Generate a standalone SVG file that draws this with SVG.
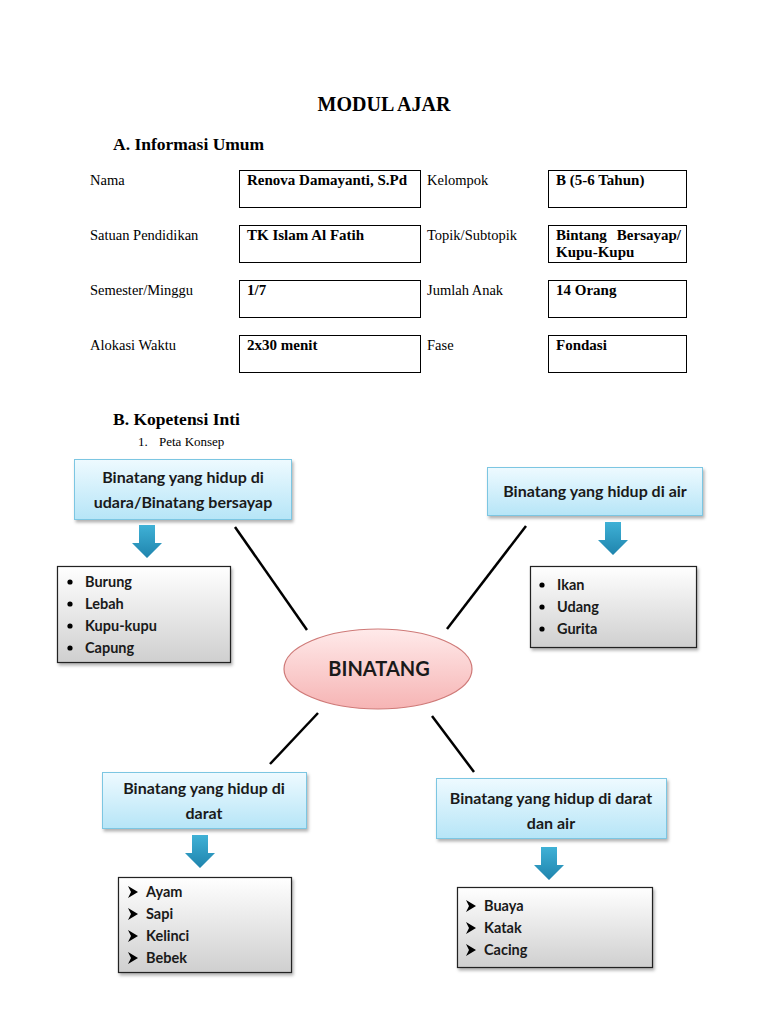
<svg xmlns="http://www.w3.org/2000/svg" width="768" height="1024" viewBox="0 0 768 1024">
<style>
.serif{font-family:"Liberation Serif","Times New Roman",serif;fill:#000}
.b{font-weight:bold}
.lbl{font-size:14.5px}
.val{font-size:15px;font-weight:bold}
.cell{fill:#fff;stroke:#000;stroke-width:1}
.cal{font-family:Lato,"Open Sans",sans-serif;font-weight:bold;fill:#1a1a1a}
.bluebox{fill:url(#gBlue);stroke:#7cc6e2;stroke-width:1;filter:url(#sh)}
.listbox{fill:url(#gGray);stroke:#222;stroke-width:1.2;filter:url(#sh)}
.arrow{fill:url(#gArrow)}
.conn line{stroke:#000;stroke-width:2.5}
</style>
<defs>
<linearGradient id="gBlue" x1="0" y1="0" x2="0" y2="1"><stop offset="0" stop-color="#eefaff"/><stop offset="1" stop-color="#b6e5f7"/></linearGradient>
<linearGradient id="gGray" x1="0" y1="0" x2="0" y2="1"><stop offset="0" stop-color="#ffffff"/><stop offset="1" stop-color="#cfcfcf"/></linearGradient>
<linearGradient id="gArrow" x1="0" y1="0" x2="0" y2="1"><stop offset="0" stop-color="#3fb1d6"/><stop offset="1" stop-color="#1f84ad"/></linearGradient>
<linearGradient id="gPink" x1="0" y1="0" x2="0" y2="1"><stop offset="0" stop-color="#ffeaea"/><stop offset="1" stop-color="#f6b4b4"/></linearGradient>
<filter id="sh" x="-10%" y="-10%" width="125%" height="130%"><feDropShadow dx="1.5" dy="2.5" stdDeviation="1.5" flood-color="#000" flood-opacity="0.3"/></filter>
<path id="arr" d="M-8,0 H8 V18 H15 L0,33 L-15,18 H-8 Z"/>
</defs>
<rect width="768" height="1024" fill="#fff"/>

<g id="header">
<text class="serif b" x="384" y="111" font-size="20" text-anchor="middle">MODUL AJAR</text>
<text class="serif b" x="113" y="150" font-size="17.5">A. Informasi Umum</text>
</g>

<g id="table">
<text class="serif lbl" x="90" y="185">Nama</text>
<rect class="cell" x="239.5" y="170.5" width="181" height="37"/>
<text class="serif val" x="247" y="185">Renova Damayanti, S.Pd</text>
<text class="serif lbl" x="427" y="185">Kelompok</text>
<rect class="cell" x="548.5" y="170.5" width="138" height="37"/>
<text class="serif val" x="556" y="185">B (5-6 Tahun)</text>

<text class="serif lbl" x="90" y="240">Satuan Pendidikan</text>
<rect class="cell" x="239.5" y="225.5" width="181" height="37"/>
<text class="serif val" x="247" y="240">TK Islam Al Fatih</text>
<text class="serif lbl" x="427" y="240">Topik/Subtopik</text>
<rect class="cell" x="548.5" y="225.5" width="138" height="37"/>
<text class="serif val" x="556" y="240">Bintang</text>
<text class="serif val" x="681" y="240" text-anchor="end">Bersayap/</text>
<text class="serif val" x="556" y="257">Kupu-Kupu</text>

<text class="serif lbl" x="90" y="295">Semester/Minggu</text>
<rect class="cell" x="239.5" y="280.5" width="181" height="37"/>
<text class="serif val" x="247" y="295">1/7</text>
<text class="serif lbl" x="427" y="295">Jumlah Anak</text>
<rect class="cell" x="548.5" y="280.5" width="138" height="37"/>
<text class="serif val" x="556" y="295">14 Orang</text>

<text class="serif lbl" x="90" y="350">Alokasi Waktu</text>
<rect class="cell" x="239.5" y="335.5" width="181" height="37"/>
<text class="serif val" x="247" y="350">2x30 menit</text>
<text class="serif lbl" x="427" y="350">Fase</text>
<rect class="cell" x="548.5" y="335.5" width="138" height="37"/>
<text class="serif val" x="556" y="350">Fondasi</text>
</g>

<g id="sectionB">
<text class="serif b" x="113" y="425" font-size="17.5">B. Kopetensi Inti</text>
<text class="serif" x="138" y="446" font-size="13">1.</text>
<text class="serif" x="159" y="446" font-size="13">Peta Konsep</text>
</g>

<g class="conn" id="connectors">
<line x1="235" y1="527" x2="307" y2="630"/>
<line x1="526" y1="526" x2="447" y2="629"/>
<line x1="318" y1="713" x2="270" y2="764"/>
<line x1="432" y1="716" x2="474" y2="772"/>
</g>

<g id="center">
<ellipse cx="378" cy="669" rx="94" ry="40" fill="url(#gPink)" stroke="#cf7a78" stroke-width="1.2"/>
<text class="cal" x="379" y="676" font-size="20" text-anchor="middle">BINATANG</text>
</g>

<g id="udara">
<rect class="bluebox" x="74.5" y="459.5" width="217" height="60"/>
<text class="cal" x="183" y="483" font-size="16" text-anchor="middle">Binatang yang hidup di</text>
<text class="cal" x="183" y="508" font-size="16" text-anchor="middle">udara/Binatang bersayap</text>
<use href="#arr" class="arrow" transform="translate(147,525)"/>
<rect class="listbox" x="57.5" y="566.5" width="173" height="96"/>
<g class="cal" font-size="14.5">
<circle cx="70" cy="582" r="2.6" fill="#000"/><text x="85" y="587">Burung</text>
<circle cx="70" cy="604" r="2.6" fill="#000"/><text x="85" y="609">Lebah</text>
<circle cx="70" cy="626" r="2.6" fill="#000"/><text x="85" y="631">Kupu-kupu</text>
<circle cx="70" cy="648" r="2.6" fill="#000"/><text x="85" y="653">Capung</text>
</g>
</g>

<g id="air">
<rect class="bluebox" x="487.5" y="467.5" width="215" height="48"/>
<text class="cal" x="595" y="497" font-size="16" text-anchor="middle">Binatang yang hidup di air</text>
<use href="#arr" class="arrow" transform="translate(613,522)"/>
<rect class="listbox" x="530.5" y="566.5" width="166" height="81"/>
<g class="cal" font-size="14.5">
<circle cx="542" cy="585" r="2.6" fill="#000"/><text x="557" y="590">Ikan</text>
<circle cx="542" cy="607" r="2.6" fill="#000"/><text x="557" y="612">Udang</text>
<circle cx="542" cy="629" r="2.6" fill="#000"/><text x="557" y="634">Gurita</text>
</g>
</g>

<g id="darat">
<rect class="bluebox" x="102.5" y="772.5" width="204" height="56"/>
<text class="cal" x="204" y="794" font-size="16" text-anchor="middle">Binatang yang hidup di</text>
<text class="cal" x="204" y="819" font-size="16" text-anchor="middle">darat</text>
<use href="#arr" class="arrow" transform="translate(200,835)"/>
<rect class="listbox" x="118.5" y="877.5" width="173" height="95"/>
<g class="cal" font-size="14.5">
<path d="M128,886 L138,892 L128,898 L131,892 Z" fill="#000"/><text x="146" y="897">Ayam</text>
<path d="M128,908 L138,914 L128,920 L131,914 Z" fill="#000"/><text x="146" y="919">Sapi</text>
<path d="M128,930 L138,936 L128,942 L131,936 Z" fill="#000"/><text x="146" y="941">Kelinci</text>
<path d="M128,952 L138,958 L128,964 L131,958 Z" fill="#000"/><text x="146" y="963">Bebek</text>
</g>
</g>

<g id="daratair">
<rect class="bluebox" x="436.5" y="778.5" width="230" height="60"/>
<text class="cal" x="551" y="804" font-size="16" text-anchor="middle">Binatang yang hidup di darat</text>
<text class="cal" x="551" y="829" font-size="16" text-anchor="middle">dan air</text>
<use href="#arr" class="arrow" transform="translate(549,847)"/>
<rect class="listbox" x="457.5" y="887.5" width="195" height="80"/>
<g class="cal" font-size="14.5">
<path d="M466,900 L476,906 L466,912 L469,906 Z" fill="#000"/><text x="484" y="911">Buaya</text>
<path d="M466,922 L476,928 L466,934 L469,928 Z" fill="#000"/><text x="484" y="933">Katak</text>
<path d="M466,944 L476,950 L466,956 L469,950 Z" fill="#000"/><text x="484" y="955">Cacing</text>
</g>
</g>
</svg>
